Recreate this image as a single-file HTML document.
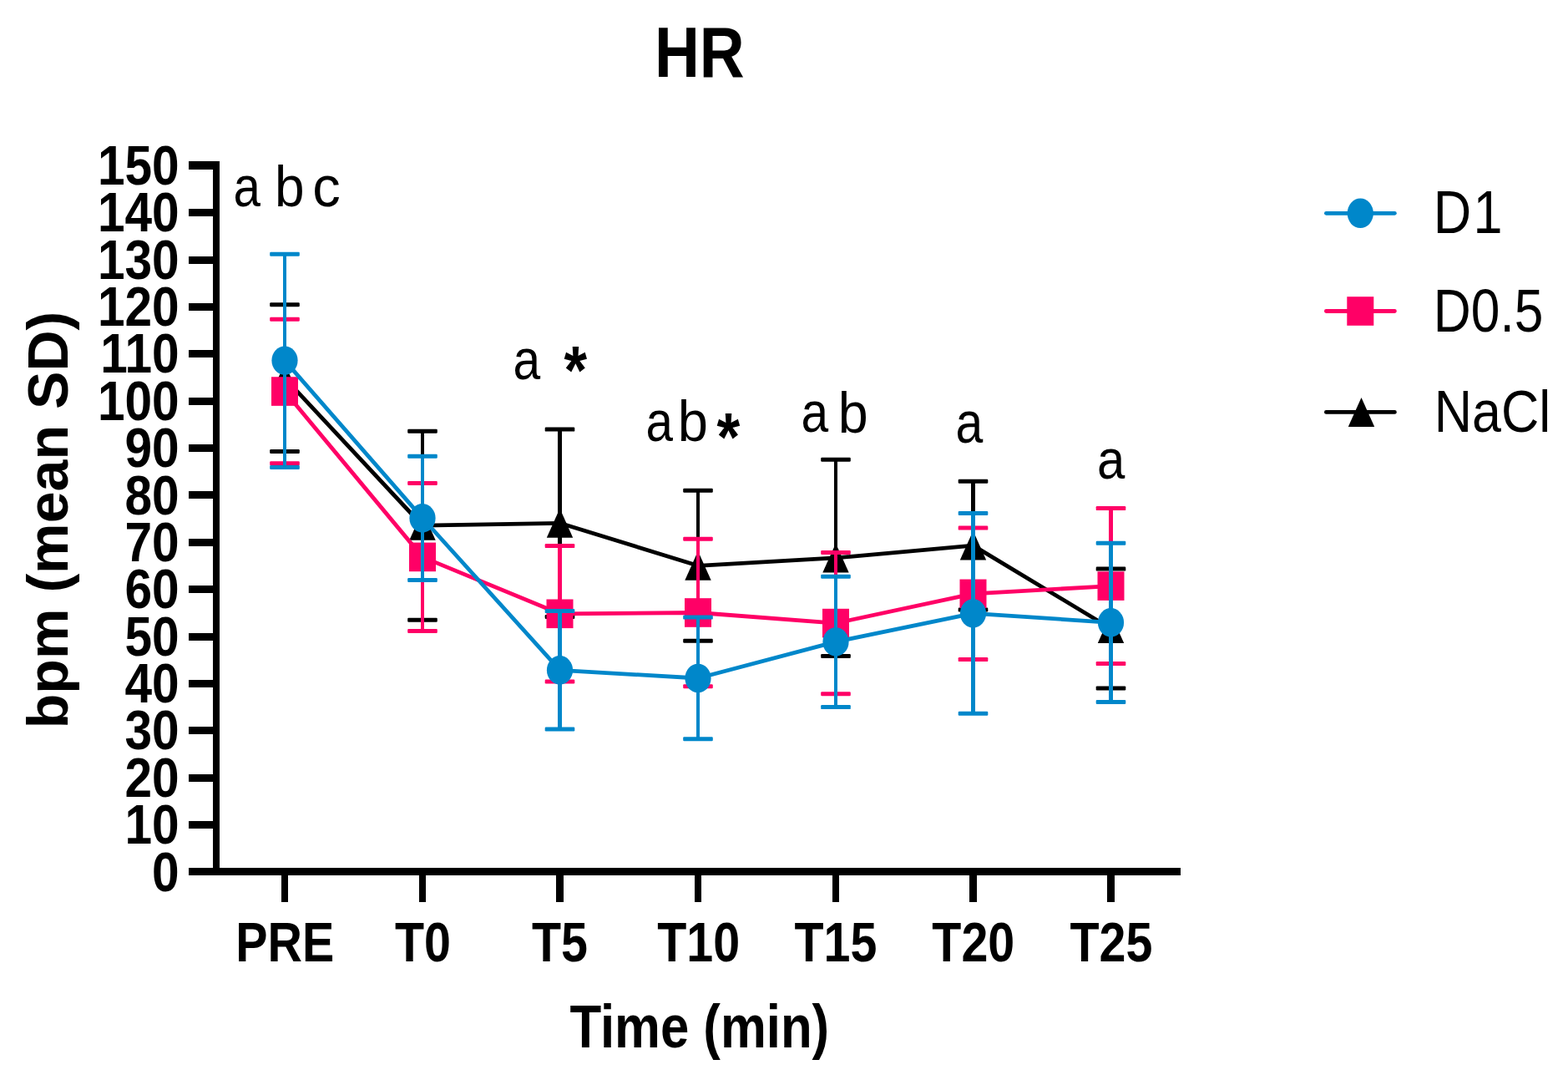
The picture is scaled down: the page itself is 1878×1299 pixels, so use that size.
<!DOCTYPE html>
<html><head><meta charset="utf-8"><title>HR</title>
<style>html,body{margin:0;padding:0;background:#fff;} svg{display:block} text{font-family:"Liberation Sans",Arial,sans-serif;fill:#000;white-space:pre}</style>
</head><body>
<svg width="1878" height="1299" viewBox="0 0 1878 1299">
<rect width="1878" height="1299" fill="#fff"/>
<text transform="translate(783.96,91.80) scale(1,1.1463)" font-size="74.61" font-weight="bold">HR</text>
<text transform="translate(80.74,872.33) rotate(-90) scale(1,1.0087)" font-size="68.14" font-weight="bold">bpm (mean SD)</text>
<text transform="translate(682.38,1253.8) scale(1,1.1708)" font-size="61.70" font-weight="bold">Time (min)</text>
<g fill="#000">
<rect x="255" y="193" width="8" height="855"/>
<rect x="226" y="1039" width="37" height="9"/>
<rect x="226" y="983" width="37" height="9"/>
<rect x="226" y="927" width="37" height="9"/>
<rect x="226" y="870" width="37" height="9"/>
<rect x="226" y="814" width="37" height="9"/>
<rect x="226" y="758" width="37" height="9"/>
<rect x="226" y="701" width="37" height="9"/>
<rect x="226" y="645" width="37" height="9"/>
<rect x="226" y="588" width="37" height="9"/>
<rect x="226" y="532" width="37" height="9"/>
<rect x="226" y="476" width="37" height="9"/>
<rect x="226" y="419" width="37" height="9"/>
<rect x="226" y="363" width="37" height="9"/>
<rect x="226" y="307" width="37" height="9"/>
<rect x="226" y="250" width="37" height="9"/>
<rect x="226" y="193" width="37" height="10"/>
<rect x="226" y="1039" width="1188" height="9"/>
<rect x="337" y="1046" width="8" height="34"/>
<rect x="502" y="1046" width="8" height="34"/>
<rect x="666" y="1046" width="9" height="34"/>
<rect x="832" y="1046" width="8" height="34"/>
<rect x="997" y="1046" width="8" height="34"/>
<rect x="1161" y="1046" width="9" height="34"/>
<rect x="1326" y="1046" width="9" height="34"/>
</g>
<text transform="translate(182.12,1066.56) scale(1,1.1297)" font-size="58.60" font-weight="bold">0</text>
<text transform="translate(149.45,1010.19) scale(1,1.1297)" font-size="58.60" font-weight="bold">10</text>
<text transform="translate(149.45,953.82) scale(1,1.1297)" font-size="58.60" font-weight="bold">20</text>
<text transform="translate(149.45,897.45) scale(1,1.1297)" font-size="58.60" font-weight="bold">30</text>
<text transform="translate(149.45,841.08) scale(1,1.1297)" font-size="58.60" font-weight="bold">40</text>
<text transform="translate(149.45,784.71) scale(1,1.1297)" font-size="58.60" font-weight="bold">50</text>
<text transform="translate(149.45,728.34) scale(1,1.1297)" font-size="58.60" font-weight="bold">60</text>
<text transform="translate(149.45,671.97) scale(1,1.1297)" font-size="58.60" font-weight="bold">70</text>
<text transform="translate(149.45,615.60) scale(1,1.1297)" font-size="58.60" font-weight="bold">80</text>
<text transform="translate(149.45,559.23) scale(1,1.1297)" font-size="58.60" font-weight="bold">90</text>
<text transform="translate(116.93,502.86) scale(1,1.1297)" font-size="58.60" font-weight="bold">100</text>
<text transform="translate(120.15,446.49) scale(1,1.1297)" font-size="58.60" font-weight="bold">110</text>
<text transform="translate(116.93,390.12) scale(1,1.1297)" font-size="58.60" font-weight="bold">120</text>
<text transform="translate(116.93,333.75) scale(1,1.1297)" font-size="58.60" font-weight="bold">130</text>
<text transform="translate(116.93,277.38) scale(1,1.1297)" font-size="58.60" font-weight="bold">140</text>
<text transform="translate(116.93,221.01) scale(1,1.1297)" font-size="58.60" font-weight="bold">150</text>
<text transform="translate(282.21,1151.00) scale(1,1.1568)" font-size="57.40" font-weight="bold">PRE</text>
<text transform="translate(472.88,1151.00) scale(1,1.1568)" font-size="57.40" font-weight="bold">T0</text>
<text transform="translate(636.95,1151.00) scale(1,1.1568)" font-size="57.40" font-weight="bold">T5</text>
<text transform="translate(787.18,1151.00) scale(1,1.1568)" font-size="57.40" font-weight="bold">T10</text>
<text transform="translate(951.47,1151.00) scale(1,1.1568)" font-size="57.40" font-weight="bold">T15</text>
<text transform="translate(1116.33,1151.00) scale(1,1.1568)" font-size="57.40" font-weight="bold">T20</text>
<text transform="translate(1281.47,1151.00) scale(1,1.1568)" font-size="57.40" font-weight="bold">T25</text>
<polyline points="341.00,452.65 506.00,629.25 670.50,626.30 836.00,677.30 1001.00,667.90 1165.50,653.10 1330.50,752.50" fill="none" stroke="#000000" stroke-width="4.8" stroke-linejoin="round"/>
<g fill="#000000">
<rect x="339" y="364.80" width="4" height="175.70"/>
<rect x="323.20" y="362.30" width="35.6" height="5" rx="1.2"/>
<rect x="323.20" y="538.00" width="35.6" height="5" rx="1.2"/>
<rect x="504" y="516.20" width="4" height="226.10"/>
<rect x="488.20" y="513.70" width="35.6" height="5" rx="1.2"/>
<rect x="488.20" y="739.80" width="35.6" height="5" rx="1.2"/>
<rect x="668" y="514.10" width="5" height="224.40"/>
<rect x="652.70" y="511.60" width="35.6" height="5" rx="1.2"/>
<rect x="652.70" y="736.00" width="35.6" height="5" rx="1.2"/>
<rect x="834" y="587.30" width="4" height="180.00"/>
<rect x="818.20" y="584.80" width="35.6" height="5" rx="1.2"/>
<rect x="818.20" y="764.80" width="35.6" height="5" rx="1.2"/>
<rect x="999" y="550.30" width="4" height="235.20"/>
<rect x="983.20" y="547.80" width="35.6" height="5" rx="1.2"/>
<rect x="983.20" y="783.00" width="35.6" height="5" rx="1.2"/>
<rect x="1163" y="576.20" width="5" height="153.80"/>
<rect x="1147.70" y="573.70" width="35.6" height="5" rx="1.2"/>
<rect x="1147.70" y="727.50" width="35.6" height="5" rx="1.2"/>
<rect x="1328" y="681.10" width="5" height="142.80"/>
<rect x="1312.70" y="678.60" width="35.6" height="5" rx="1.2"/>
<rect x="1312.70" y="821.40" width="35.6" height="5" rx="1.2"/>
<path d="M341.00,435.15L356.70,470.15L325.30,470.15Z"/>
<path d="M506.00,611.75L521.70,646.75L490.30,646.75Z"/>
<path d="M670.50,608.80L686.20,643.80L654.80,643.80Z"/>
<path d="M836.00,659.80L851.70,694.80L820.30,694.80Z"/>
<path d="M1001.00,650.40L1016.70,685.40L985.30,685.40Z"/>
<path d="M1165.50,635.60L1181.20,670.60L1149.80,670.60Z"/>
<path d="M1330.50,735.00L1346.20,770.00L1314.80,770.00Z"/>
</g>
<polyline points="341.00,468.55 506.00,666.90 670.50,734.80 836.00,733.50 1001.00,746.10 1165.50,710.85 1330.50,701.60" fill="none" stroke="#FF0066" stroke-width="4.8" stroke-linejoin="round"/>
<g fill="#FF0066">
<rect x="339" y="382.30" width="4" height="172.50"/>
<rect x="323.20" y="379.80" width="35.6" height="5" rx="1.2"/>
<rect x="323.20" y="552.30" width="35.6" height="5" rx="1.2"/>
<rect x="504" y="578.40" width="4" height="177.00"/>
<rect x="488.20" y="575.90" width="35.6" height="5" rx="1.2"/>
<rect x="488.20" y="752.90" width="35.6" height="5" rx="1.2"/>
<rect x="668" y="653.60" width="5" height="162.40"/>
<rect x="652.70" y="651.10" width="35.6" height="5" rx="1.2"/>
<rect x="652.70" y="813.50" width="35.6" height="5" rx="1.2"/>
<rect x="834" y="645.30" width="4" height="176.40"/>
<rect x="818.20" y="642.80" width="35.6" height="5" rx="1.2"/>
<rect x="818.20" y="819.20" width="35.6" height="5" rx="1.2"/>
<rect x="999" y="661.40" width="4" height="169.40"/>
<rect x="983.20" y="658.90" width="35.6" height="5" rx="1.2"/>
<rect x="983.20" y="828.30" width="35.6" height="5" rx="1.2"/>
<rect x="1163" y="632.10" width="5" height="157.50"/>
<rect x="1147.70" y="629.60" width="35.6" height="5" rx="1.2"/>
<rect x="1147.70" y="787.10" width="35.6" height="5" rx="1.2"/>
<rect x="1328" y="608.60" width="5" height="186.00"/>
<rect x="1312.70" y="606.10" width="35.6" height="5" rx="1.2"/>
<rect x="1312.70" y="792.10" width="35.6" height="5" rx="1.2"/>
<rect x="325.00" y="451.25" width="32" height="34.6"/>
<rect x="490.00" y="649.60" width="32" height="34.6"/>
<rect x="654.50" y="717.50" width="32" height="34.6"/>
<rect x="820.00" y="716.20" width="32" height="34.6"/>
<rect x="985.00" y="728.80" width="32" height="34.6"/>
<rect x="1149.50" y="693.55" width="32" height="34.6"/>
<rect x="1314.50" y="684.30" width="32" height="34.6"/>
</g>
<polyline points="341.00,431.60 506.00,620.30 670.50,802.30 836.00,812.00 1001.00,768.40 1165.50,734.35 1330.50,745.30" fill="none" stroke="#0087CA" stroke-width="4.8" stroke-linejoin="round"/>
<g fill="#0087CA">
<rect x="339" y="304.20" width="4" height="255.20"/>
<rect x="323.20" y="301.70" width="35.6" height="5" rx="1.2"/>
<rect x="323.20" y="556.90" width="35.6" height="5" rx="1.2"/>
<rect x="504" y="546.20" width="4" height="148.30"/>
<rect x="488.20" y="543.70" width="35.6" height="5" rx="1.2"/>
<rect x="488.20" y="692.00" width="35.6" height="5" rx="1.2"/>
<rect x="668" y="731.60" width="5" height="141.40"/>
<rect x="652.70" y="729.10" width="35.6" height="5" rx="1.2"/>
<rect x="652.70" y="870.50" width="35.6" height="5" rx="1.2"/>
<rect x="834" y="739.10" width="4" height="145.70"/>
<rect x="818.20" y="736.60" width="35.6" height="5" rx="1.2"/>
<rect x="818.20" y="882.30" width="35.6" height="5" rx="1.2"/>
<rect x="999" y="690.20" width="4" height="156.40"/>
<rect x="983.20" y="687.70" width="35.6" height="5" rx="1.2"/>
<rect x="983.20" y="844.10" width="35.6" height="5" rx="1.2"/>
<rect x="1163" y="614.40" width="5" height="239.90"/>
<rect x="1147.70" y="611.90" width="35.6" height="5" rx="1.2"/>
<rect x="1147.70" y="851.80" width="35.6" height="5" rx="1.2"/>
<rect x="1328" y="650.20" width="5" height="190.20"/>
<rect x="1312.70" y="647.70" width="35.6" height="5" rx="1.2"/>
<rect x="1312.70" y="837.90" width="35.6" height="5" rx="1.2"/>
<ellipse cx="341.00" cy="431.60" rx="15.6" ry="17.2"/>
<ellipse cx="506.00" cy="620.30" rx="15.6" ry="17.2"/>
<ellipse cx="670.50" cy="802.30" rx="15.6" ry="17.2"/>
<ellipse cx="836.00" cy="812.00" rx="15.6" ry="17.2"/>
<ellipse cx="1001.00" cy="768.40" rx="15.6" ry="17.2"/>
<ellipse cx="1165.50" cy="734.35" rx="15.6" ry="17.2"/>
<ellipse cx="1330.50" cy="745.30" rx="15.6" ry="17.2"/>
</g>
<line x1="1588.4" y1="255.3" x2="1670.4" y2="255.3" stroke="#0087CA" stroke-width="4.8" stroke-linecap="round"/>
<g fill="#0087CA"><ellipse cx="1629.30" cy="255.30" rx="15.6" ry="17.8"/></g>
<line x1="1588.4" y1="372.5" x2="1670.4" y2="372.5" stroke="#FF0066" stroke-width="4.8" stroke-linecap="round"/>
<g fill="#FF0066"><rect x="1613.30" y="355.20" width="32" height="34.6"/></g>
<line x1="1588.4" y1="493.4" x2="1670.4" y2="493.4" stroke="#000000" stroke-width="4.8" stroke-linecap="round"/>
<g fill="#000000"><path d="M1630.50,475.90L1646.20,510.90L1614.80,510.90Z"/></g>
<text transform="translate(1716.83,278.90) scale(1,1.1544)" font-size="63.00">D<tspan dx="2.26">1</tspan></text>
<text transform="translate(1716.86,396.98) scale(1,1.1505)" font-size="62.29" font-weight="normal">D0.5</text>
<text transform="translate(1717.73,517.29) scale(1,1.1301)" font-size="62.73" font-weight="normal">NaCl</text>
<text transform="translate(279.52,247.01) scale(1,1.1865)" font-size="58.34" font-weight="normal">a</text>
<text transform="translate(328.94,247.01) scale(1,1.0778)" font-size="64.00" font-weight="normal">b</text>
<text transform="translate(374.15,247.01) scale(1,1.0335)" font-size="66.98" font-weight="normal">c</text>
<text transform="translate(614.40,454.11) scale(1,1.1786)" font-size="58.73" font-weight="normal">a</text>
<text transform="translate(773.42,528.11) scale(1,1.1897)" font-size="58.34" font-weight="normal">a</text>
<text transform="translate(811.67,528.11) scale(1,1.0615)" font-size="65.11" font-weight="normal">b</text>
<text transform="translate(959.40,517.21) scale(1,1.1818)" font-size="58.73" font-weight="normal">a</text>
<text transform="translate(1003.70,518.31) scale(1,1.0730)" font-size="64.67" font-weight="normal">b</text>
<text transform="translate(1144.40,530.20) scale(1,1.1809)" font-size="58.93" font-weight="normal">a</text>
<text transform="translate(1314.05,573.03) scale(1,1.1190)" font-size="59.90" font-weight="normal">a</text>
<text transform="translate(675.55,470.74) scale(1,1.1444)" font-size="70.85" font-weight="bold">*</text>
<text transform="translate(858.44,550.83) scale(1,1.1398)" font-size="71.37" font-weight="bold">*</text>
</svg></body></html>
